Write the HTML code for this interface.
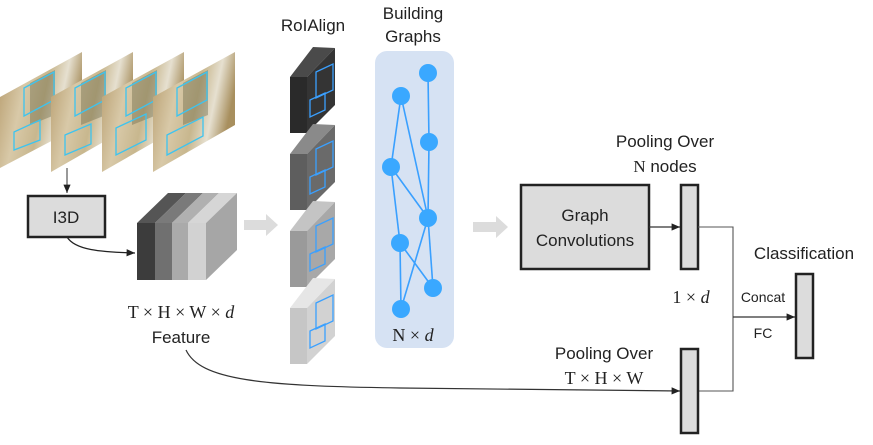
<!DOCTYPE html>
<html><head><meta charset="utf-8"><style>
body{margin:0;background:#fff;}
svg{display:block;font-family:"Liberation Sans",sans-serif;}
.t{font-size:17px;fill:#222;}
.m{font-family:"Liberation Serif",serif;font-size:18px;fill:#222;}
</style></head><body>
<svg width="873" height="445" viewBox="0 0 873 445">
<defs>
<linearGradient id="img" x1="0" y1="0" x2="1" y2="0.3">
<stop offset="0" stop-color="#b59a6a"/><stop offset="0.35" stop-color="#d8c9a8"/>
<stop offset="0.6" stop-color="#c8b78e"/><stop offset="0.8" stop-color="#e6e0d0"/><stop offset="1" stop-color="#a88f5e"/></linearGradient>
<marker id="ar" markerWidth="8" markerHeight="8" refX="7" refY="4" orient="auto"><path d="M0,1 L7,4 L0,7z" fill="#222"/></marker>
</defs>
<!-- frames -->
<g>
<g transform="translate(0,0)"><polygon points="0,97 82,52 82,125 0,168" fill="url(#img)"/><polygon points="55,70 30,83 30,125 55,115" fill="#5a5a3a" opacity=".35"/><polygon points="24,88 54,72 54,100 24,116" fill="none" stroke="#3cc4f0" stroke-width="1.3"/><polygon points="14,132 40,120 40,140 14,150" fill="none" stroke="#3cc4f0" stroke-width="1.3"/></g>
<g transform="translate(51,0)"><polygon points="0,97 82,52 82,125 0,172" fill="url(#img)"/><polygon points="55,70 30,83 30,125 55,115" fill="#5a5a3a" opacity=".35"/><polygon points="24,88 54,72 54,100 24,116" fill="none" stroke="#3cc4f0" stroke-width="1.3"/><polygon points="14,135 40,124 40,144 14,155" fill="none" stroke="#3cc4f0" stroke-width="1.3"/></g>
<g transform="translate(102,0)"><polygon points="0,97 82,52 82,125 0,172" fill="url(#img)"/><polygon points="55,70 30,83 30,125 55,115" fill="#5a5a3a" opacity=".35"/><polygon points="24,88 54,72 54,100 24,116" fill="none" stroke="#3cc4f0" stroke-width="1.3"/><polygon points="14,128 44,114 44,140 14,155" fill="none" stroke="#3cc4f0" stroke-width="1.3"/></g>
<g transform="translate(153,0)"><polygon points="0,97 82,52 82,125 0,172" fill="url(#img)"/><polygon points="55,70 30,83 30,125 55,115" fill="#5a5a3a" opacity=".35"/><polygon points="24,88 54,72 54,100 24,116" fill="none" stroke="#3cc4f0" stroke-width="1.3"/><polygon points="14,135 50,117 50,136 14,155" fill="none" stroke="#3cc4f0" stroke-width="1.3"/></g>
</g>
<line x1="67" y1="168" x2="67" y2="193" stroke="#555" stroke-width="1.2" marker-end="url(#ar)"/>
<rect x="28" y="196" width="77" height="41" fill="#dcdcdc" stroke="#222" stroke-width="2.5"/>
<text x="66" y="223" class="t" text-anchor="middle">I3D</text>
<path d="M67,237 C75,250 100,252 135,253" fill="none" stroke="#222" stroke-width="1.2" marker-end="url(#ar)"/>
<!-- feature cube -->
<polygon points="137,223 155,223 186,193 168,193" fill="#555"/>
<polygon points="155,223 186,193 203,193 172,223" fill="#7a7a7a"/>
<polygon points="172,223 203,193 219,193 188,223" fill="#b0b0b0"/>
<polygon points="188,223 219,193 237,193 206,223" fill="#d6d6d6"/>
<polygon points="206,223 237,193 237,250 206,280" fill="#a6a6a6"/>
<rect x="137" y="223" width="18" height="57" fill="#3c3c3c"/>
<rect x="155" y="223" width="17" height="57" fill="#707070"/>
<rect x="172" y="223" width="16" height="57" fill="#aaaaaa"/>
<rect x="188" y="223" width="18" height="57" fill="#d2d2d2"/>
<text x="181" y="318" class="m" text-anchor="middle">T × H × W × <tspan font-style="italic">d</tspan></text>
<text x="181" y="343" class="t" text-anchor="middle">Feature</text>
<polygon points="244,220 266,220 266,214 278,225 266,236 266,230 244,230" fill="#dcdcdc"/>
<!-- RoI blocks -->
<g transform="translate(0,0)"><polygon points="290,77 313,47 335,48 307,77" fill="#4a4a4a"/><polygon points="307,77 335,48 335,105 307,133" fill="#343434"/><rect x="290" y="77" width="17" height="56" fill="#2a2a2a"/><polygon points="316,72 333,64 333,90 316,98" fill="none" stroke="#3aa0ff" stroke-width="1.3"/><polygon points="310,100 325,93 325,110 310,117" fill="none" stroke="#3aa0ff" stroke-width="1.3"/></g>
<g transform="translate(0,77)"><polygon points="290,77 313,47 335,48 307,77" fill="#8a8a8a"/><polygon points="307,77 335,48 335,105 307,133" fill="#6a6a6a"/><rect x="290" y="77" width="17" height="56" fill="#5e5e5e"/><polygon points="316,72 333,64 333,90 316,98" fill="none" stroke="#3aa0ff" stroke-width="1.3"/><polygon points="310,100 325,93 325,110 310,117" fill="none" stroke="#3aa0ff" stroke-width="1.3"/></g>
<g transform="translate(0,154)"><polygon points="290,77 313,47 335,48 307,77" fill="#c4c4c4"/><polygon points="307,77 335,48 335,105 307,133" fill="#a8a8a8"/><rect x="290" y="77" width="17" height="56" fill="#9a9a9a"/><polygon points="316,72 333,64 333,90 316,98" fill="none" stroke="#3aa0ff" stroke-width="1.3"/><polygon points="310,100 325,93 325,110 310,117" fill="none" stroke="#3aa0ff" stroke-width="1.3"/></g>
<g transform="translate(0,231)"><polygon points="290,77 313,47 335,48 307,77" fill="#e6e6e6"/><polygon points="307,77 335,48 335,105 307,133" fill="#d2d2d2"/><rect x="290" y="77" width="17" height="56" fill="#c6c6c6"/><polygon points="316,72 333,64 333,90 316,98" fill="none" stroke="#3aa0ff" stroke-width="1.3"/><polygon points="310,100 325,93 325,110 310,117" fill="none" stroke="#3aa0ff" stroke-width="1.3"/></g>
<text x="313" y="31" class="t" text-anchor="middle">RoIAlign</text>
<!-- graph -->
<text x="413" y="19" class="t" text-anchor="middle">Building</text>
<text x="413" y="42" class="t" text-anchor="middle">Graphs</text>
<rect x="375" y="51" width="79" height="297" rx="12" fill="#d6e2f3"/>
<g stroke="#3aa0ff" stroke-width="1.6">
<line x1="428" y1="73" x2="429" y2="142"/><line x1="429" y1="142" x2="428" y2="218"/>
<line x1="401" y1="96" x2="391" y2="167"/><line x1="401" y1="96" x2="428" y2="218"/>
<line x1="391" y1="167" x2="428" y2="218"/><line x1="391" y1="167" x2="400" y2="243"/>
<line x1="428" y1="218" x2="433" y2="288"/><line x1="428" y1="218" x2="401" y2="309"/>
<line x1="400" y1="243" x2="401" y2="309"/><line x1="400" y1="243" x2="433" y2="288"/>
</g>
<g fill="#3aa8ff">
<circle cx="428" cy="73" r="9"/><circle cx="401" cy="96" r="9"/><circle cx="429" cy="142" r="9"/><circle cx="391" cy="167" r="9"/><circle cx="428" cy="218" r="9"/><circle cx="400" cy="243" r="9"/><circle cx="433" cy="288" r="9"/><circle cx="401" cy="309" r="9"/>
</g>
<text x="413" y="341" class="m" text-anchor="middle">N × <tspan font-style="italic">d</tspan></text>
<polygon points="473,222 496,222 496,216 508,227 496,238 496,232 473,232" fill="#dcdcdc"/>
<!-- right -->
<rect x="521" y="185" width="128" height="84" fill="#dcdcdc" stroke="#222" stroke-width="2.5"/>
<text x="585" y="221" class="t" text-anchor="middle">Graph</text>
<text x="585" y="246" class="t" text-anchor="middle">Convolutions</text>
<line x1="649" y1="227" x2="680" y2="227" stroke="#333" stroke-width="1.2" marker-end="url(#ar)"/>
<rect x="681" y="185" width="17" height="84" fill="#dcdcdc" stroke="#222" stroke-width="2.5"/>
<text x="665" y="147" class="t" text-anchor="middle">Pooling Over</text>
<text x="665" y="172" class="t" text-anchor="middle"><tspan font-family="Liberation Serif">N</tspan> nodes</text>
<polyline points="698,227 733,227 733,391 698,391" fill="none" stroke="#555" stroke-width="1.1"/>
<line x1="733" y1="317" x2="795" y2="317" stroke="#333" stroke-width="1.2" marker-end="url(#ar)"/>
<rect x="796" y="274" width="17" height="84" fill="#dcdcdc" stroke="#222" stroke-width="2.5"/>
<text x="804" y="259" class="t" text-anchor="middle">Classification</text>
<text x="691" y="303" class="m" text-anchor="middle">1 × <tspan font-style="italic">d</tspan></text>
<text x="763" y="302" font-size="14" fill="#222" text-anchor="middle">Concat</text>
<text x="763" y="338" font-size="14" fill="#222" text-anchor="middle">FC</text>
<text x="604" y="359" class="t" text-anchor="middle">Pooling Over</text>
<text x="604" y="384" class="m" text-anchor="middle">T × H × W</text>
<path d="M186,350 C200,380 260,386 400,388 L680,391" fill="none" stroke="#333" stroke-width="1.2" marker-end="url(#ar)"/>
<rect x="681" y="349" width="17" height="84" fill="#dcdcdc" stroke="#222" stroke-width="2.5"/>
</svg>
</body></html>
